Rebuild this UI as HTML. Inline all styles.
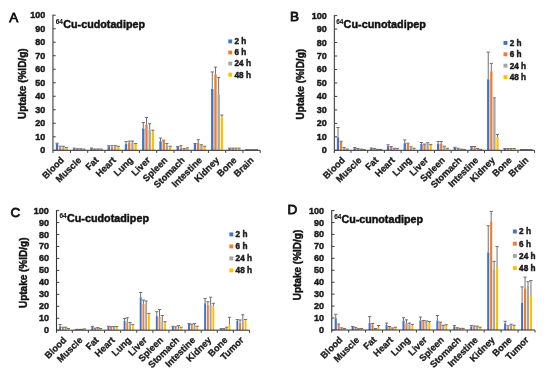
<!DOCTYPE html>
<html><head><meta charset="utf-8"><style>
html,body{margin:0;padding:0;background:#fff;width:550px;height:375px;overflow:hidden}
svg{display:block;filter:blur(0.35px)}
text{stroke:#1a1a1a;stroke-width:0.45px;paint-order:stroke}
</style></head><body>
<svg width="550" height="375" viewBox="0 0 550 375">
<rect width="550" height="375" fill="#fff"/>
<rect x="55.85" y="143.82" width="2.36" height="6.48" fill="#4472C4"/>
<rect x="59.05" y="147.33" width="2.36" height="2.97" fill="#ED7D31"/>
<rect x="62.25" y="147.33" width="2.36" height="2.97" fill="#A5A5A5"/>
<rect x="65.45" y="148.14" width="2.36" height="2.16" fill="#FFC000"/>
<rect x="73.09" y="148.41" width="2.36" height="1.89" fill="#4472C4"/>
<rect x="76.3" y="148.95" width="2.36" height="1.35" fill="#ED7D31"/>
<rect x="79.5" y="148.95" width="2.36" height="1.35" fill="#A5A5A5"/>
<rect x="82.7" y="149.22" width="2.36" height="1.08" fill="#FFC000"/>
<rect x="90.34" y="148.27" width="2.36" height="2.03" fill="#4472C4"/>
<rect x="93.55" y="149.22" width="2.36" height="1.08" fill="#ED7D31"/>
<rect x="96.75" y="149.22" width="2.36" height="1.08" fill="#A5A5A5"/>
<rect x="99.95" y="149.22" width="2.36" height="1.08" fill="#FFC000"/>
<rect x="107.59" y="146.25" width="2.36" height="4.05" fill="#4472C4"/>
<rect x="110.8" y="147.19" width="2.36" height="3.11" fill="#ED7D31"/>
<rect x="114" y="145.98" width="2.36" height="4.32" fill="#A5A5A5"/>
<rect x="117.2" y="146.52" width="2.36" height="3.78" fill="#FFC000"/>
<rect x="124.84" y="144.09" width="2.36" height="6.21" fill="#4472C4"/>
<rect x="128.04" y="142.6" width="2.36" height="7.7" fill="#ED7D31"/>
<rect x="131.24" y="142.6" width="2.36" height="7.7" fill="#A5A5A5"/>
<rect x="134.44" y="144.09" width="2.36" height="6.21" fill="#FFC000"/>
<rect x="142.09" y="128.41" width="2.36" height="21.89" fill="#4472C4"/>
<rect x="145.29" y="124.77" width="2.36" height="25.53" fill="#ED7D31"/>
<rect x="148.49" y="129.63" width="2.36" height="20.67" fill="#A5A5A5"/>
<rect x="151.69" y="131.93" width="2.36" height="18.37" fill="#FFC000"/>
<rect x="159.34" y="141.11" width="2.36" height="9.19" fill="#4472C4"/>
<rect x="162.54" y="140.84" width="2.36" height="9.46" fill="#ED7D31"/>
<rect x="165.74" y="145.3" width="2.36" height="5" fill="#A5A5A5"/>
<rect x="168.94" y="146.79" width="2.36" height="3.51" fill="#FFC000"/>
<rect x="176.59" y="147.06" width="2.36" height="3.24" fill="#4472C4"/>
<rect x="179.79" y="147.6" width="2.36" height="2.7" fill="#ED7D31"/>
<rect x="182.99" y="148.95" width="2.36" height="1.35" fill="#A5A5A5"/>
<rect x="186.19" y="148.41" width="2.36" height="1.89" fill="#FFC000"/>
<rect x="193.84" y="144.09" width="2.36" height="6.21" fill="#4472C4"/>
<rect x="197.04" y="143" width="2.36" height="7.3" fill="#ED7D31"/>
<rect x="200.24" y="145.3" width="2.36" height="5" fill="#A5A5A5"/>
<rect x="203.44" y="146.79" width="2.36" height="3.51" fill="#FFC000"/>
<rect x="211.09" y="88.96" width="2.36" height="61.34" fill="#4472C4"/>
<rect x="214.29" y="74.24" width="2.36" height="76.06" fill="#ED7D31"/>
<rect x="217.49" y="94.5" width="2.36" height="55.8" fill="#A5A5A5"/>
<rect x="220.69" y="117.2" width="2.36" height="33.1" fill="#FFC000"/>
<rect x="228.34" y="148.41" width="2.36" height="1.89" fill="#4472C4"/>
<rect x="231.54" y="148.41" width="2.36" height="1.89" fill="#ED7D31"/>
<rect x="234.74" y="148.41" width="2.36" height="1.89" fill="#A5A5A5"/>
<rect x="237.94" y="148.41" width="2.36" height="1.89" fill="#FFC000"/>
<rect x="245.59" y="149.76" width="2.36" height="0.54" fill="#4472C4"/>
<rect x="248.79" y="149.76" width="2.36" height="0.54" fill="#ED7D31"/>
<rect x="251.99" y="149.76" width="2.36" height="0.54" fill="#A5A5A5"/>
<rect x="255.19" y="149.76" width="2.36" height="0.54" fill="#FFC000"/>
<path d="M57.03 143.82V143.27M55.43 143.27H58.63M60.23 147.33V146.25M58.63 146.25H61.83M63.43 147.33V146.25M61.83 146.25H65.03M66.62 148.14V147.6M65.03 147.6H68.22M74.27 148.41V148.14M72.67 148.14H75.87M77.47 148.95V148.81M75.88 148.81H79.07M80.67 148.95V148.81M79.08 148.81H82.27M83.88 149.22V149.08M82.28 149.08H85.47M91.52 148.27V148M89.92 148H93.12M94.72 149.22V149.08M93.12 149.08H96.32M97.92 149.22V148.95M96.33 148.95H99.52M101.12 149.22V149.08M99.53 149.08H102.72M108.77 146.25V145.71M107.17 145.71H110.37M111.97 147.19V145.71M110.38 145.71H113.57M115.17 145.98V145.44M113.58 145.44H116.77M118.38 146.52V146.25M116.78 146.25H119.97M126.02 144.09V141.65M124.42 141.65H127.62M129.22 142.6V141.11M127.62 141.11H130.82M132.42 142.6V141.11M130.82 141.11H134.02M135.62 144.09V143.55M134.02 143.55H137.22M143.27 128.41V122.47M141.67 122.47H144.87M146.47 124.77V117.47M144.87 117.47H148.07M149.67 129.63V123.69M148.07 123.69H151.27M152.87 131.93V130.17M151.27 130.17H154.47M160.52 141.11V138.01M158.92 138.01H162.12M163.72 140.84V140.17M162.12 140.17H165.32M166.92 145.3V143.55M165.32 143.55H168.52M170.12 146.79V146.25M168.52 146.25H171.72M177.77 147.06V146.52M176.17 146.52H179.37M180.97 147.6V145.71M179.37 145.71H182.57M184.17 148.95V148.68M182.57 148.68H185.77M187.37 148.41V147.87M185.77 147.87H188.97M195.02 144.09V143.55M193.42 143.55H196.62M198.22 143V139.76M196.62 139.76H199.82M201.42 145.3V144.76M199.82 144.76H203.02M204.62 146.79V146.25M203.02 146.25H206.22M212.27 88.96V71.94M210.67 71.94H213.87M215.47 74.24V67.08M213.87 67.08H217.07M218.67 94.5V77.62M217.07 77.62H220.27M221.87 117.2V115.04M220.27 115.04H223.47M229.52 148.41V148.14M227.92 148.14H231.12M232.72 148.41V148.14M231.12 148.14H234.32M235.92 148.41V148.14M234.32 148.14H237.52M239.12 148.41V148.14M237.52 148.14H240.72M246.77 149.76V149.62M245.17 149.62H248.37M249.97 149.76V149.62M248.37 149.62H251.57M253.17 149.76V149.62M251.57 149.62H254.77M256.38 149.76V149.62M254.78 149.62H257.98" stroke="#707070" stroke-width="1" fill="none"/>
<path d="M53.2 150.3H260.2" stroke="#2a2a35" stroke-width="1"/>
<path d="M70.45 150.3V152.9M87.7 150.3V152.9M104.95 150.3V152.9M122.2 150.3V152.9M139.45 150.3V152.9M156.7 150.3V152.9M173.95 150.3V152.9M191.2 150.3V152.9M208.45 150.3V152.9M225.7 150.3V152.9M242.95 150.3V152.9M260.2 150.3V152.9" stroke="#404040" stroke-width="1"/>
<path d="M52.9 14.7V152.9" stroke="#8c8c8c" stroke-width="1.9"/>
<path d="M52.9 150.3H55.7M52.9 136.79H55.7M52.9 123.28H55.7M52.9 109.77H55.7M52.9 96.26H55.7M52.9 82.75H55.7M52.9 69.24H55.7M52.9 55.73H55.7M52.9 42.22H55.7M52.9 28.71H55.7M52.9 15.2H55.7" stroke="#404040" stroke-width="1"/>
<text x="45.3" y="153.3" text-anchor="end" font-family='"Liberation Sans", sans-serif' font-weight='bold' font-size="9" fill="#1a1a1a">0</text>
<text x="45.3" y="139.79" text-anchor="end" font-family='"Liberation Sans", sans-serif' font-weight='bold' font-size="9" fill="#1a1a1a">10</text>
<text x="45.3" y="126.28" text-anchor="end" font-family='"Liberation Sans", sans-serif' font-weight='bold' font-size="9" fill="#1a1a1a">20</text>
<text x="45.3" y="112.77" text-anchor="end" font-family='"Liberation Sans", sans-serif' font-weight='bold' font-size="9" fill="#1a1a1a">30</text>
<text x="45.3" y="99.26" text-anchor="end" font-family='"Liberation Sans", sans-serif' font-weight='bold' font-size="9" fill="#1a1a1a">40</text>
<text x="45.3" y="85.75" text-anchor="end" font-family='"Liberation Sans", sans-serif' font-weight='bold' font-size="9" fill="#1a1a1a">50</text>
<text x="45.3" y="72.24" text-anchor="end" font-family='"Liberation Sans", sans-serif' font-weight='bold' font-size="9" fill="#1a1a1a">60</text>
<text x="45.3" y="58.73" text-anchor="end" font-family='"Liberation Sans", sans-serif' font-weight='bold' font-size="9" fill="#1a1a1a">70</text>
<text x="45.3" y="45.22" text-anchor="end" font-family='"Liberation Sans", sans-serif' font-weight='bold' font-size="9" fill="#1a1a1a">80</text>
<text x="45.3" y="31.71" text-anchor="end" font-family='"Liberation Sans", sans-serif' font-weight='bold' font-size="9" fill="#1a1a1a">90</text>
<text x="45.3" y="18.2" text-anchor="end" font-family='"Liberation Sans", sans-serif' font-weight='bold' font-size="9" fill="#1a1a1a">100</text>
<text transform="translate(64.62 160.8) rotate(-45)" text-anchor="end" font-family='"Liberation Sans", sans-serif' font-weight='bold' font-size="9.3" fill="#1a1a1a" style="stroke-width:0.3px">Blood</text>
<text transform="translate(81.88 160.8) rotate(-45)" text-anchor="end" font-family='"Liberation Sans", sans-serif' font-weight='bold' font-size="9.3" fill="#1a1a1a" style="stroke-width:0.3px">Muscle</text>
<text transform="translate(99.12 160.8) rotate(-45)" text-anchor="end" font-family='"Liberation Sans", sans-serif' font-weight='bold' font-size="9.3" fill="#1a1a1a" style="stroke-width:0.3px">Fat</text>
<text transform="translate(116.38 160.8) rotate(-45)" text-anchor="end" font-family='"Liberation Sans", sans-serif' font-weight='bold' font-size="9.3" fill="#1a1a1a" style="stroke-width:0.3px">Heart</text>
<text transform="translate(133.62 160.8) rotate(-45)" text-anchor="end" font-family='"Liberation Sans", sans-serif' font-weight='bold' font-size="9.3" fill="#1a1a1a" style="stroke-width:0.3px">Lung</text>
<text transform="translate(150.88 160.8) rotate(-45)" text-anchor="end" font-family='"Liberation Sans", sans-serif' font-weight='bold' font-size="9.3" fill="#1a1a1a" style="stroke-width:0.3px">Liver</text>
<text transform="translate(168.12 160.8) rotate(-45)" text-anchor="end" font-family='"Liberation Sans", sans-serif' font-weight='bold' font-size="9.3" fill="#1a1a1a" style="stroke-width:0.3px">Spleen</text>
<text transform="translate(185.38 160.8) rotate(-45)" text-anchor="end" font-family='"Liberation Sans", sans-serif' font-weight='bold' font-size="9.3" fill="#1a1a1a" style="stroke-width:0.3px">Stomach</text>
<text transform="translate(202.62 160.8) rotate(-45)" text-anchor="end" font-family='"Liberation Sans", sans-serif' font-weight='bold' font-size="9.3" fill="#1a1a1a" style="stroke-width:0.3px">Intestine</text>
<text transform="translate(219.88 160.8) rotate(-45)" text-anchor="end" font-family='"Liberation Sans", sans-serif' font-weight='bold' font-size="9.3" fill="#1a1a1a" style="stroke-width:0.3px">Kidney</text>
<text transform="translate(237.12 160.8) rotate(-45)" text-anchor="end" font-family='"Liberation Sans", sans-serif' font-weight='bold' font-size="9.3" fill="#1a1a1a" style="stroke-width:0.3px">Bone</text>
<text transform="translate(254.38 160.8) rotate(-45)" text-anchor="end" font-family='"Liberation Sans", sans-serif' font-weight='bold' font-size="9.3" fill="#1a1a1a" style="stroke-width:0.3px">Brain</text>
<text x="55.7" y="23.6" font-family='"Liberation Sans", sans-serif' font-weight="bold" font-size="6.5" fill="#111" style="stroke:#111;stroke-width:0.1px" textLength="7.2" lengthAdjust="spacingAndGlyphs">64</text>
<text x="63.3" y="27.6" font-family='"Liberation Sans", sans-serif' font-weight='bold' font-size="10.5" fill="#111" textLength="81.7" lengthAdjust="spacingAndGlyphs">Cu-cudotadipep</text>
<rect x="228.3" y="39.45" width="3.9" height="3.9" fill="#4472C4"/>
<text x="234.5" y="44.2" font-family='"Liberation Sans", sans-serif' font-weight='bold' font-size="8.2" fill="#1a1a1a">2 h</text>
<rect x="228.3" y="50.55" width="3.9" height="3.9" fill="#ED7D31"/>
<text x="234.5" y="55.3" font-family='"Liberation Sans", sans-serif' font-weight='bold' font-size="8.2" fill="#1a1a1a">6 h</text>
<rect x="228.3" y="61.65" width="3.9" height="3.9" fill="#A5A5A5"/>
<text x="234.5" y="66.4" font-family='"Liberation Sans", sans-serif' font-weight='bold' font-size="8.2" fill="#1a1a1a">24 h</text>
<rect x="228.3" y="72.75" width="3.9" height="3.9" fill="#FFC000"/>
<text x="234.5" y="77.5" font-family='"Liberation Sans", sans-serif' font-weight='bold' font-size="8.2" fill="#1a1a1a">48 h</text>
<text transform="translate(25.5 83.7) rotate(-90)" text-anchor="middle" font-family='"Liberation Sans", sans-serif' font-weight='bold' font-size="10" fill="#111">Uptake (%ID/g)</text>
<text x="9.2" y="21.6" font-family='"Liberation Sans", sans-serif' font-size="13.5" fill="#111" style="stroke:#111;stroke-width:0.8px">A</text>
<rect x="336.87" y="137.37" width="2.26" height="12.93" fill="#4472C4"/>
<rect x="339.97" y="141.81" width="2.26" height="8.49" fill="#ED7D31"/>
<rect x="343.07" y="148.14" width="2.26" height="2.16" fill="#A5A5A5"/>
<rect x="346.17" y="149.22" width="2.26" height="1.08" fill="#FFC000"/>
<rect x="353.56" y="148.14" width="2.26" height="2.16" fill="#4472C4"/>
<rect x="356.66" y="148.68" width="2.26" height="1.62" fill="#ED7D31"/>
<rect x="359.76" y="149.22" width="2.26" height="1.08" fill="#A5A5A5"/>
<rect x="362.86" y="149.49" width="2.26" height="0.81" fill="#FFC000"/>
<rect x="370.25" y="148.28" width="2.26" height="2.02" fill="#4472C4"/>
<rect x="373.35" y="148.68" width="2.26" height="1.62" fill="#ED7D31"/>
<rect x="376.45" y="149.49" width="2.26" height="0.81" fill="#A5A5A5"/>
<rect x="379.55" y="149.49" width="2.26" height="0.81" fill="#FFC000"/>
<rect x="386.94" y="146.12" width="2.26" height="4.18" fill="#4472C4"/>
<rect x="390.04" y="147.07" width="2.26" height="3.23" fill="#ED7D31"/>
<rect x="393.14" y="148.41" width="2.26" height="1.89" fill="#A5A5A5"/>
<rect x="396.24" y="148.55" width="2.26" height="1.75" fill="#FFC000"/>
<rect x="403.63" y="143.16" width="2.26" height="7.14" fill="#4472C4"/>
<rect x="406.73" y="143.7" width="2.26" height="6.6" fill="#ED7D31"/>
<rect x="409.83" y="147.74" width="2.26" height="2.56" fill="#A5A5A5"/>
<rect x="412.93" y="148.41" width="2.26" height="1.89" fill="#FFC000"/>
<rect x="420.32" y="144.1" width="2.26" height="6.2" fill="#4472C4"/>
<rect x="423.42" y="144.37" width="2.26" height="5.93" fill="#ED7D31"/>
<rect x="426.52" y="143.7" width="2.26" height="6.6" fill="#A5A5A5"/>
<rect x="429.62" y="144.78" width="2.26" height="5.52" fill="#FFC000"/>
<rect x="437.02" y="143.56" width="2.26" height="6.74" fill="#4472C4"/>
<rect x="440.12" y="143.7" width="2.26" height="6.6" fill="#ED7D31"/>
<rect x="443.22" y="147.07" width="2.26" height="3.23" fill="#A5A5A5"/>
<rect x="446.32" y="148.41" width="2.26" height="1.89" fill="#FFC000"/>
<rect x="453.71" y="147.88" width="2.26" height="2.42" fill="#4472C4"/>
<rect x="456.81" y="148.41" width="2.26" height="1.89" fill="#ED7D31"/>
<rect x="459.91" y="149.22" width="2.26" height="1.08" fill="#A5A5A5"/>
<rect x="463.01" y="149.49" width="2.26" height="0.81" fill="#FFC000"/>
<rect x="470.4" y="147.07" width="2.26" height="3.23" fill="#4472C4"/>
<rect x="473.5" y="147.34" width="2.26" height="2.96" fill="#ED7D31"/>
<rect x="476.6" y="148.68" width="2.26" height="1.62" fill="#A5A5A5"/>
<rect x="479.7" y="149.49" width="2.26" height="0.81" fill="#FFC000"/>
<rect x="487.09" y="79.31" width="2.26" height="70.99" fill="#4472C4"/>
<rect x="490.19" y="71.37" width="2.26" height="78.93" fill="#ED7D31"/>
<rect x="493.29" y="99.11" width="2.26" height="51.19" fill="#A5A5A5"/>
<rect x="496.39" y="137.1" width="2.26" height="13.2" fill="#FFC000"/>
<rect x="503.78" y="148.68" width="2.26" height="1.62" fill="#4472C4"/>
<rect x="506.88" y="148.68" width="2.26" height="1.62" fill="#ED7D31"/>
<rect x="509.98" y="148.68" width="2.26" height="1.62" fill="#A5A5A5"/>
<rect x="513.08" y="148.68" width="2.26" height="1.62" fill="#FFC000"/>
<rect x="520.47" y="149.63" width="2.26" height="0.67" fill="#4472C4"/>
<rect x="523.57" y="149.63" width="2.26" height="0.67" fill="#ED7D31"/>
<rect x="526.67" y="149.63" width="2.26" height="0.67" fill="#A5A5A5"/>
<rect x="529.77" y="149.63" width="2.26" height="0.67" fill="#FFC000"/>
<path d="M338 137.37V127.54M336.4 127.54H339.6M341.1 141.81V141.28M339.5 141.28H342.7M344.2 148.14V147.61M342.6 147.61H345.8M347.3 149.22V149.09M345.7 149.09H348.9M354.69 148.14V147.61M353.09 147.61H356.29M357.79 148.68V148.55M356.19 148.55H359.39M360.89 149.22V149.09M359.29 149.09H362.49M363.99 149.49V149.36M362.39 149.36H365.59M371.38 148.28V148.01M369.78 148.01H372.98M374.48 148.68V148.55M372.88 148.55H376.08M377.58 149.49V149.36M375.98 149.36H379.18M380.68 149.49V149.36M379.08 149.36H382.28M388.07 146.12V144.78M386.47 144.78H389.67M391.17 147.07V146.53M389.57 146.53H392.77M394.27 148.41V148.28M392.67 148.28H395.87M397.37 148.55V148.41M395.77 148.41H398.97M404.76 143.16V139.93M403.16 139.93H406.36M407.86 143.7V143.16M406.26 143.16H409.46M410.96 147.74V146.8M409.36 146.8H412.56M414.06 148.41V148.28M412.46 148.28H415.66M421.45 144.1V142.49M419.85 142.49H423.05M424.55 144.37V144.1M422.95 144.1H426.15M427.65 143.7V142.76M426.05 142.76H429.25M430.75 144.78V144.64M429.15 144.64H432.35M438.15 143.56V141.54M436.55 141.54H439.75M441.25 143.7V141.54M439.65 141.54H442.85M444.35 147.07V146.26M442.75 146.26H445.95M447.45 148.41V148.28M445.85 148.28H449.05M454.84 147.88V147.34M453.24 147.34H456.44M457.94 148.41V148.28M456.34 148.28H459.54M461.04 149.22V149.09M459.44 149.09H462.64M464.14 149.49V149.36M462.54 149.36H465.74M471.53 147.07V146.53M469.93 146.53H473.13M474.63 147.34V146.53M473.03 146.53H476.23M477.73 148.68V148.55M476.13 148.55H479.33M480.83 149.49V149.36M479.23 149.36H482.43M488.22 79.31V52.1M486.62 52.1H489.82M491.32 71.37V63.42M489.72 63.42H492.92M494.42 99.11V97.9M492.82 97.9H496.02M497.52 137.1V134.41M495.92 134.41H499.12M504.91 148.68V148.55M503.31 148.55H506.51M508.01 148.68V148.55M506.41 148.55H509.61M511.11 148.68V148.55M509.51 148.55H512.71M514.21 148.68V148.55M512.61 148.55H515.81M521.6 149.63V149.49M520 149.49H523.2M524.7 149.63V149.49M523.1 149.49H526.3M527.8 149.63V149.49M526.2 149.49H529.4M530.9 149.63V149.49M529.3 149.49H532.5" stroke="#707070" stroke-width="1" fill="none"/>
<path d="M334.3 150.3H534.6" stroke="#2a2a35" stroke-width="1"/>
<path d="M350.99 150.3V152.9M367.68 150.3V152.9M384.38 150.3V152.9M401.07 150.3V152.9M417.76 150.3V152.9M434.45 150.3V152.9M451.14 150.3V152.9M467.83 150.3V152.9M484.52 150.3V152.9M501.22 150.3V152.9M517.91 150.3V152.9M534.6 150.3V152.9" stroke="#404040" stroke-width="1"/>
<path d="M334.4 15.1V152.9" stroke="#555" stroke-width="1.3"/>
<path d="M334.4 150.3H337.2M334.4 136.83H337.2M334.4 123.36H337.2M334.4 109.89H337.2M334.4 96.42H337.2M334.4 82.95H337.2M334.4 69.48H337.2M334.4 56.01H337.2M334.4 42.54H337.2M334.4 29.07H337.2M334.4 15.6H337.2" stroke="#404040" stroke-width="1"/>
<text x="326.8" y="153.3" text-anchor="end" font-family='"Liberation Sans", sans-serif' font-weight='bold' font-size="9" fill="#1a1a1a">0</text>
<text x="326.8" y="139.83" text-anchor="end" font-family='"Liberation Sans", sans-serif' font-weight='bold' font-size="9" fill="#1a1a1a">10</text>
<text x="326.8" y="126.36" text-anchor="end" font-family='"Liberation Sans", sans-serif' font-weight='bold' font-size="9" fill="#1a1a1a">20</text>
<text x="326.8" y="112.89" text-anchor="end" font-family='"Liberation Sans", sans-serif' font-weight='bold' font-size="9" fill="#1a1a1a">30</text>
<text x="326.8" y="99.42" text-anchor="end" font-family='"Liberation Sans", sans-serif' font-weight='bold' font-size="9" fill="#1a1a1a">40</text>
<text x="326.8" y="85.95" text-anchor="end" font-family='"Liberation Sans", sans-serif' font-weight='bold' font-size="9" fill="#1a1a1a">50</text>
<text x="326.8" y="72.48" text-anchor="end" font-family='"Liberation Sans", sans-serif' font-weight='bold' font-size="9" fill="#1a1a1a">60</text>
<text x="326.8" y="59.01" text-anchor="end" font-family='"Liberation Sans", sans-serif' font-weight='bold' font-size="9" fill="#1a1a1a">70</text>
<text x="326.8" y="45.54" text-anchor="end" font-family='"Liberation Sans", sans-serif' font-weight='bold' font-size="9" fill="#1a1a1a">80</text>
<text x="326.8" y="32.07" text-anchor="end" font-family='"Liberation Sans", sans-serif' font-weight='bold' font-size="9" fill="#1a1a1a">90</text>
<text x="326.8" y="18.6" text-anchor="end" font-family='"Liberation Sans", sans-serif' font-weight='bold' font-size="9" fill="#1a1a1a">100</text>
<text transform="translate(345.45 160.8) rotate(-45)" text-anchor="end" font-family='"Liberation Sans", sans-serif' font-weight='bold' font-size="9.3" fill="#1a1a1a" style="stroke-width:0.3px">Blood</text>
<text transform="translate(362.14 160.8) rotate(-45)" text-anchor="end" font-family='"Liberation Sans", sans-serif' font-weight='bold' font-size="9.3" fill="#1a1a1a" style="stroke-width:0.3px">Muscle</text>
<text transform="translate(378.83 160.8) rotate(-45)" text-anchor="end" font-family='"Liberation Sans", sans-serif' font-weight='bold' font-size="9.3" fill="#1a1a1a" style="stroke-width:0.3px">Fat</text>
<text transform="translate(395.52 160.8) rotate(-45)" text-anchor="end" font-family='"Liberation Sans", sans-serif' font-weight='bold' font-size="9.3" fill="#1a1a1a" style="stroke-width:0.3px">Heart</text>
<text transform="translate(412.21 160.8) rotate(-45)" text-anchor="end" font-family='"Liberation Sans", sans-serif' font-weight='bold' font-size="9.3" fill="#1a1a1a" style="stroke-width:0.3px">Lung</text>
<text transform="translate(428.9 160.8) rotate(-45)" text-anchor="end" font-family='"Liberation Sans", sans-serif' font-weight='bold' font-size="9.3" fill="#1a1a1a" style="stroke-width:0.3px">Liver</text>
<text transform="translate(445.6 160.8) rotate(-45)" text-anchor="end" font-family='"Liberation Sans", sans-serif' font-weight='bold' font-size="9.3" fill="#1a1a1a" style="stroke-width:0.3px">Spleen</text>
<text transform="translate(462.29 160.8) rotate(-45)" text-anchor="end" font-family='"Liberation Sans", sans-serif' font-weight='bold' font-size="9.3" fill="#1a1a1a" style="stroke-width:0.3px">Stomach</text>
<text transform="translate(478.98 160.8) rotate(-45)" text-anchor="end" font-family='"Liberation Sans", sans-serif' font-weight='bold' font-size="9.3" fill="#1a1a1a" style="stroke-width:0.3px">Intestine</text>
<text transform="translate(495.67 160.8) rotate(-45)" text-anchor="end" font-family='"Liberation Sans", sans-serif' font-weight='bold' font-size="9.3" fill="#1a1a1a" style="stroke-width:0.3px">Kidney</text>
<text transform="translate(512.36 160.8) rotate(-45)" text-anchor="end" font-family='"Liberation Sans", sans-serif' font-weight='bold' font-size="9.3" fill="#1a1a1a" style="stroke-width:0.3px">Bone</text>
<text transform="translate(529.05 160.8) rotate(-45)" text-anchor="end" font-family='"Liberation Sans", sans-serif' font-weight='bold' font-size="9.3" fill="#1a1a1a" style="stroke-width:0.3px">Brain</text>
<text x="336.2" y="23.8" font-family='"Liberation Sans", sans-serif' font-weight="bold" font-size="6.5" fill="#111" style="stroke:#111;stroke-width:0.1px" textLength="7.2" lengthAdjust="spacingAndGlyphs">64</text>
<text x="343.6" y="27.8" font-family='"Liberation Sans", sans-serif' font-weight='bold' font-size="10.5" fill="#111" textLength="82.4" lengthAdjust="spacingAndGlyphs">Cu-cunotadipep</text>
<rect x="503.5" y="40.95" width="3.9" height="3.9" fill="#4472C4"/>
<text x="509.7" y="45.7" font-family='"Liberation Sans", sans-serif' font-weight='bold' font-size="8.2" fill="#1a1a1a">2 h</text>
<rect x="503.5" y="52.35" width="3.9" height="3.9" fill="#ED7D31"/>
<text x="509.7" y="57.1" font-family='"Liberation Sans", sans-serif' font-weight='bold' font-size="8.2" fill="#1a1a1a">6 h</text>
<rect x="503.5" y="63.75" width="3.9" height="3.9" fill="#A5A5A5"/>
<text x="509.7" y="68.5" font-family='"Liberation Sans", sans-serif' font-weight='bold' font-size="8.2" fill="#1a1a1a">24 h</text>
<rect x="503.5" y="75.15" width="3.9" height="3.9" fill="#FFC000"/>
<text x="509.7" y="79.9" font-family='"Liberation Sans", sans-serif' font-weight='bold' font-size="8.2" fill="#1a1a1a">48 h</text>
<text transform="translate(304.4 84.2) rotate(-90)" text-anchor="middle" font-family='"Liberation Sans", sans-serif' font-weight='bold' font-size="10" fill="#111">Uptake (%ID/g)</text>
<text x="290.1" y="20.9" font-family='"Liberation Sans", sans-serif' font-size="13.5" fill="#111" style="stroke:#111;stroke-width:0.8px">B</text>
<rect x="59.17" y="326.37" width="1.91" height="3.83" fill="#4472C4"/>
<rect x="61.92" y="327.81" width="1.91" height="2.39" fill="#ED7D31"/>
<rect x="64.67" y="327.81" width="1.91" height="2.39" fill="#A5A5A5"/>
<rect x="67.42" y="328.76" width="1.91" height="1.44" fill="#FFC000"/>
<rect x="75.28" y="329.48" width="1.91" height="0.72" fill="#4472C4"/>
<rect x="78.03" y="329.48" width="1.91" height="0.72" fill="#ED7D31"/>
<rect x="80.78" y="329.48" width="1.91" height="0.72" fill="#A5A5A5"/>
<rect x="83.53" y="329" width="1.91" height="1.2" fill="#FFC000"/>
<rect x="91.39" y="326.97" width="1.91" height="3.23" fill="#4472C4"/>
<rect x="94.14" y="328.41" width="1.91" height="1.79" fill="#ED7D31"/>
<rect x="96.89" y="327.81" width="1.91" height="2.39" fill="#A5A5A5"/>
<rect x="99.64" y="328.76" width="1.91" height="1.44" fill="#FFC000"/>
<rect x="107.5" y="326.49" width="1.91" height="3.71" fill="#4472C4"/>
<rect x="110.25" y="326.97" width="1.91" height="3.23" fill="#ED7D31"/>
<rect x="113" y="326.85" width="1.91" height="3.35" fill="#A5A5A5"/>
<rect x="115.75" y="326.85" width="1.91" height="3.35" fill="#FFC000"/>
<rect x="123.61" y="320.87" width="1.91" height="9.33" fill="#4472C4"/>
<rect x="126.36" y="322.19" width="1.91" height="8.01" fill="#ED7D31"/>
<rect x="129.11" y="324.1" width="1.91" height="6.1" fill="#A5A5A5"/>
<rect x="131.86" y="325.18" width="1.91" height="5.02" fill="#FFC000"/>
<rect x="139.72" y="297.31" width="1.91" height="32.89" fill="#4472C4"/>
<rect x="142.47" y="303.89" width="1.91" height="26.31" fill="#ED7D31"/>
<rect x="145.22" y="304.13" width="1.91" height="26.07" fill="#A5A5A5"/>
<rect x="147.97" y="314.05" width="1.91" height="16.15" fill="#FFC000"/>
<rect x="155.82" y="316.09" width="1.91" height="14.11" fill="#4472C4"/>
<rect x="158.57" y="316.92" width="1.91" height="13.28" fill="#ED7D31"/>
<rect x="161.32" y="322.07" width="1.91" height="8.13" fill="#A5A5A5"/>
<rect x="164.07" y="323.26" width="1.91" height="6.94" fill="#FFC000"/>
<rect x="171.93" y="326.85" width="1.91" height="3.35" fill="#4472C4"/>
<rect x="174.68" y="327.81" width="1.91" height="2.39" fill="#ED7D31"/>
<rect x="177.43" y="328.41" width="1.91" height="1.79" fill="#A5A5A5"/>
<rect x="180.18" y="327.81" width="1.91" height="2.39" fill="#FFC000"/>
<rect x="188.04" y="323.86" width="1.91" height="6.34" fill="#4472C4"/>
<rect x="190.79" y="324.46" width="1.91" height="5.74" fill="#ED7D31"/>
<rect x="193.54" y="325.06" width="1.91" height="5.14" fill="#A5A5A5"/>
<rect x="196.29" y="327.21" width="1.91" height="2.99" fill="#FFC000"/>
<rect x="204.15" y="303.29" width="1.91" height="26.91" fill="#4472C4"/>
<rect x="206.9" y="304.84" width="1.91" height="25.36" fill="#ED7D31"/>
<rect x="209.65" y="305.2" width="1.91" height="25" fill="#A5A5A5"/>
<rect x="212.4" y="306.52" width="1.91" height="23.68" fill="#FFC000"/>
<rect x="220.26" y="328.88" width="1.91" height="1.32" fill="#4472C4"/>
<rect x="223.01" y="328.88" width="1.91" height="1.32" fill="#ED7D31"/>
<rect x="225.76" y="328.41" width="1.91" height="1.79" fill="#A5A5A5"/>
<rect x="228.51" y="324.58" width="1.91" height="5.62" fill="#FFC000"/>
<rect x="236.37" y="320.99" width="1.91" height="9.21" fill="#4472C4"/>
<rect x="239.12" y="322.9" width="1.91" height="7.3" fill="#ED7D31"/>
<rect x="241.87" y="318.72" width="1.91" height="11.48" fill="#A5A5A5"/>
<rect x="244.62" y="320.03" width="1.91" height="10.17" fill="#FFC000"/>
<path d="M60.13 326.37V324.46M58.53 324.46H61.73M62.88 327.81V327.21M61.28 327.21H64.48M65.63 327.81V327.21M64.03 327.21H67.23M68.38 328.76V328.53M66.78 328.53H69.98M76.24 329.48V329.36M74.64 329.36H77.84M78.99 329.48V329.36M77.39 329.36H80.59M81.74 329.48V329.36M80.14 329.36H83.34M84.49 329V328.88M82.89 328.88H86.09M92.35 326.97V326.37M90.75 326.37H93.95M95.1 328.41V328.17M93.5 328.17H96.7M97.85 327.81V327.57M96.25 327.57H99.45M100.6 328.76V328.53M99 328.53H102.2M108.45 326.49V326.25M106.85 326.25H110.05M111.2 326.97V326.73M109.6 326.73H112.8M113.95 326.85V326.61M112.35 326.61H115.55M116.7 326.85V326.61M115.1 326.61H118.3M124.56 320.87V318.48M122.96 318.48H126.16M127.31 322.19V317.76M125.71 317.76H128.91M130.06 324.1V322.55M128.46 322.55H131.66M132.81 325.18V324.58M131.21 324.58H134.41M140.67 297.31V292.53M139.07 292.53H142.27M143.42 303.89V300.06M141.82 300.06H145.02M146.17 304.13V301.02M144.57 301.02H147.77M148.92 314.05V313.46M147.32 313.46H150.52M156.78 316.09V311.66M155.18 311.66H158.38M159.53 316.92V309.51M157.93 309.51H161.13M162.28 322.07V315.49M160.68 315.49H163.88M165.03 323.26V321.71M163.43 321.71H166.63M172.89 326.85V326.25M171.29 326.25H174.49M175.64 327.81V326.85M174.04 326.85H177.24M178.39 328.41V325.66M176.79 325.66H179.99M181.14 327.81V327.21M179.54 327.21H182.74M189 323.86V323.62M187.4 323.62H190.6M191.75 324.46V324.22M190.15 324.22H193.35M194.5 325.06V323.62M192.9 323.62H196.1M197.25 327.21V326.25M195.65 326.25H198.85M205.1 303.29V298.51M203.5 298.51H206.7M207.85 304.84V301.74M206.25 301.74H209.45M210.6 305.2V297.19M209 297.19H212.2M213.35 306.52V303.29M211.75 303.29H214.95M221.21 328.88V328.65M219.61 328.65H222.81M223.96 328.88V328.65M222.36 328.65H225.56M226.71 328.41V327.21M225.11 327.21H228.31M229.46 324.58V317.28M227.86 317.28H231.06M237.32 320.99V319.56M235.72 319.56H238.92M240.07 322.9V320.03M238.47 320.03H241.67M242.82 318.72V314.77M241.22 314.77H244.42M245.57 320.03V319.44M243.97 319.44H247.17" stroke="#707070" stroke-width="1" fill="none"/>
<path d="M56.2 330.2H249.5" stroke="#2a2a35" stroke-width="1"/>
<path d="M72.31 330.2V332.8M88.42 330.2V332.8M104.53 330.2V332.8M120.63 330.2V332.8M136.74 330.2V332.8M152.85 330.2V332.8M168.96 330.2V332.8M185.07 330.2V332.8M201.18 330.2V332.8M217.28 330.2V332.8M233.39 330.2V332.8M249.5 330.2V332.8" stroke="#404040" stroke-width="1"/>
<path d="M56.5 210.1V332.8" stroke="#333" stroke-width="1.1"/>
<path d="M56.5 330.2H59.3M56.5 318.24H59.3M56.5 306.28H59.3M56.5 294.32H59.3M56.5 282.36H59.3M56.5 270.4H59.3M56.5 258.44H59.3M56.5 246.48H59.3M56.5 234.52H59.3M56.5 222.56H59.3M56.5 210.6H59.3" stroke="#404040" stroke-width="1"/>
<text x="48.9" y="333.2" text-anchor="end" font-family='"Liberation Sans", sans-serif' font-weight='bold' font-size="9" fill="#1a1a1a">0</text>
<text x="48.9" y="321.24" text-anchor="end" font-family='"Liberation Sans", sans-serif' font-weight='bold' font-size="9" fill="#1a1a1a">10</text>
<text x="48.9" y="309.28" text-anchor="end" font-family='"Liberation Sans", sans-serif' font-weight='bold' font-size="9" fill="#1a1a1a">20</text>
<text x="48.9" y="297.32" text-anchor="end" font-family='"Liberation Sans", sans-serif' font-weight='bold' font-size="9" fill="#1a1a1a">30</text>
<text x="48.9" y="285.36" text-anchor="end" font-family='"Liberation Sans", sans-serif' font-weight='bold' font-size="9" fill="#1a1a1a">40</text>
<text x="48.9" y="273.4" text-anchor="end" font-family='"Liberation Sans", sans-serif' font-weight='bold' font-size="9" fill="#1a1a1a">50</text>
<text x="48.9" y="261.44" text-anchor="end" font-family='"Liberation Sans", sans-serif' font-weight='bold' font-size="9" fill="#1a1a1a">60</text>
<text x="48.9" y="249.48" text-anchor="end" font-family='"Liberation Sans", sans-serif' font-weight='bold' font-size="9" fill="#1a1a1a">70</text>
<text x="48.9" y="237.52" text-anchor="end" font-family='"Liberation Sans", sans-serif' font-weight='bold' font-size="9" fill="#1a1a1a">80</text>
<text x="48.9" y="225.56" text-anchor="end" font-family='"Liberation Sans", sans-serif' font-weight='bold' font-size="9" fill="#1a1a1a">90</text>
<text x="48.9" y="213.6" text-anchor="end" font-family='"Liberation Sans", sans-serif' font-weight='bold' font-size="9" fill="#1a1a1a">100</text>
<text transform="translate(67.05 340.7) rotate(-45)" text-anchor="end" font-family='"Liberation Sans", sans-serif' font-weight='bold' font-size="9.3" fill="#1a1a1a" style="stroke-width:0.3px">Blood</text>
<text transform="translate(83.16 340.7) rotate(-45)" text-anchor="end" font-family='"Liberation Sans", sans-serif' font-weight='bold' font-size="9.3" fill="#1a1a1a" style="stroke-width:0.3px">Muscle</text>
<text transform="translate(99.27 340.7) rotate(-45)" text-anchor="end" font-family='"Liberation Sans", sans-serif' font-weight='bold' font-size="9.3" fill="#1a1a1a" style="stroke-width:0.3px">Fat</text>
<text transform="translate(115.38 340.7) rotate(-45)" text-anchor="end" font-family='"Liberation Sans", sans-serif' font-weight='bold' font-size="9.3" fill="#1a1a1a" style="stroke-width:0.3px">Heart</text>
<text transform="translate(131.49 340.7) rotate(-45)" text-anchor="end" font-family='"Liberation Sans", sans-serif' font-weight='bold' font-size="9.3" fill="#1a1a1a" style="stroke-width:0.3px">Lung</text>
<text transform="translate(147.6 340.7) rotate(-45)" text-anchor="end" font-family='"Liberation Sans", sans-serif' font-weight='bold' font-size="9.3" fill="#1a1a1a" style="stroke-width:0.3px">Liver</text>
<text transform="translate(163.7 340.7) rotate(-45)" text-anchor="end" font-family='"Liberation Sans", sans-serif' font-weight='bold' font-size="9.3" fill="#1a1a1a" style="stroke-width:0.3px">Spleen</text>
<text transform="translate(179.81 340.7) rotate(-45)" text-anchor="end" font-family='"Liberation Sans", sans-serif' font-weight='bold' font-size="9.3" fill="#1a1a1a" style="stroke-width:0.3px">Stomach</text>
<text transform="translate(195.92 340.7) rotate(-45)" text-anchor="end" font-family='"Liberation Sans", sans-serif' font-weight='bold' font-size="9.3" fill="#1a1a1a" style="stroke-width:0.3px">Intestine</text>
<text transform="translate(212.03 340.7) rotate(-45)" text-anchor="end" font-family='"Liberation Sans", sans-serif' font-weight='bold' font-size="9.3" fill="#1a1a1a" style="stroke-width:0.3px">Kidney</text>
<text transform="translate(228.14 340.7) rotate(-45)" text-anchor="end" font-family='"Liberation Sans", sans-serif' font-weight='bold' font-size="9.3" fill="#1a1a1a" style="stroke-width:0.3px">Bone</text>
<text transform="translate(244.25 340.7) rotate(-45)" text-anchor="end" font-family='"Liberation Sans", sans-serif' font-weight='bold' font-size="9.3" fill="#1a1a1a" style="stroke-width:0.3px">Tumor</text>
<text x="59.4" y="218.4" font-family='"Liberation Sans", sans-serif' font-weight="bold" font-size="6.5" fill="#111" style="stroke:#111;stroke-width:0.1px" textLength="7.2" lengthAdjust="spacingAndGlyphs">64</text>
<text x="67" y="222.4" font-family='"Liberation Sans", sans-serif' font-weight='bold' font-size="10.5" fill="#111" textLength="82" lengthAdjust="spacingAndGlyphs">Cu-cudotadipep</text>
<rect x="229.4" y="232.45" width="3.9" height="3.9" fill="#4472C4"/>
<text x="235.6" y="237.2" font-family='"Liberation Sans", sans-serif' font-weight='bold' font-size="8.2" fill="#1a1a1a">2 h</text>
<rect x="229.4" y="244.45" width="3.9" height="3.9" fill="#ED7D31"/>
<text x="235.6" y="249.2" font-family='"Liberation Sans", sans-serif' font-weight='bold' font-size="8.2" fill="#1a1a1a">6 h</text>
<rect x="229.4" y="256.45" width="3.9" height="3.9" fill="#A5A5A5"/>
<text x="235.6" y="261.2" font-family='"Liberation Sans", sans-serif' font-weight='bold' font-size="8.2" fill="#1a1a1a">24 h</text>
<rect x="229.4" y="268.45" width="3.9" height="3.9" fill="#FFC000"/>
<text x="235.6" y="273.2" font-family='"Liberation Sans", sans-serif' font-weight='bold' font-size="8.2" fill="#1a1a1a">48 h</text>
<text transform="translate(27 272.8) rotate(-90)" text-anchor="middle" font-family='"Liberation Sans", sans-serif' font-weight='bold' font-size="10" fill="#111">Uptake (%ID/g)</text>
<text x="10.4" y="216.8" font-family='"Liberation Sans", sans-serif' font-size="13.5" fill="#111" style="stroke:#111;stroke-width:0.8px">C</text>
<rect x="334.69" y="318.3" width="2.11" height="11.7" fill="#4472C4"/>
<rect x="337.64" y="325.1" width="2.11" height="4.9" fill="#ED7D31"/>
<rect x="340.59" y="328.33" width="2.11" height="1.67" fill="#A5A5A5"/>
<rect x="343.54" y="328.81" width="2.11" height="1.19" fill="#FFC000"/>
<rect x="351.63" y="326.9" width="2.11" height="3.1" fill="#4472C4"/>
<rect x="354.58" y="327.61" width="2.11" height="2.39" fill="#ED7D31"/>
<rect x="357.53" y="328.81" width="2.11" height="1.19" fill="#A5A5A5"/>
<rect x="360.48" y="328.57" width="2.11" height="1.43" fill="#FFC000"/>
<rect x="368.57" y="323.07" width="2.11" height="6.93" fill="#4472C4"/>
<rect x="371.52" y="324.27" width="2.11" height="5.73" fill="#ED7D31"/>
<rect x="374.47" y="328.81" width="2.11" height="1.19" fill="#A5A5A5"/>
<rect x="377.42" y="327.49" width="2.11" height="2.51" fill="#FFC000"/>
<rect x="385.52" y="325.1" width="2.11" height="4.9" fill="#4472C4"/>
<rect x="388.47" y="326.9" width="2.11" height="3.1" fill="#ED7D31"/>
<rect x="391.42" y="328.21" width="2.11" height="1.79" fill="#A5A5A5"/>
<rect x="394.37" y="327.85" width="2.11" height="2.15" fill="#FFC000"/>
<rect x="402.46" y="320.69" width="2.11" height="9.31" fill="#4472C4"/>
<rect x="405.41" y="323.07" width="2.11" height="6.93" fill="#ED7D31"/>
<rect x="408.36" y="324.27" width="2.11" height="5.73" fill="#A5A5A5"/>
<rect x="411.31" y="325.46" width="2.11" height="4.54" fill="#FFC000"/>
<rect x="419.4" y="320.45" width="2.11" height="9.55" fill="#4472C4"/>
<rect x="422.35" y="320.69" width="2.11" height="9.31" fill="#ED7D31"/>
<rect x="425.3" y="321.52" width="2.11" height="8.48" fill="#A5A5A5"/>
<rect x="428.25" y="322.96" width="2.11" height="7.04" fill="#FFC000"/>
<rect x="436.34" y="320.45" width="2.11" height="9.55" fill="#4472C4"/>
<rect x="439.29" y="322.36" width="2.11" height="7.64" fill="#ED7D31"/>
<rect x="442.24" y="325.82" width="2.11" height="4.18" fill="#A5A5A5"/>
<rect x="445.19" y="326.18" width="2.11" height="3.82" fill="#FFC000"/>
<rect x="453.28" y="326.42" width="2.11" height="3.58" fill="#4472C4"/>
<rect x="456.23" y="327.97" width="2.11" height="2.03" fill="#ED7D31"/>
<rect x="459.18" y="328.45" width="2.11" height="1.55" fill="#A5A5A5"/>
<rect x="462.13" y="328.45" width="2.11" height="1.55" fill="#FFC000"/>
<rect x="470.22" y="326.66" width="2.11" height="3.34" fill="#4472C4"/>
<rect x="473.17" y="326.42" width="2.11" height="3.58" fill="#ED7D31"/>
<rect x="476.12" y="326.9" width="2.11" height="3.1" fill="#A5A5A5"/>
<rect x="479.07" y="327.85" width="2.11" height="2.15" fill="#FFC000"/>
<rect x="487.17" y="252.39" width="2.11" height="77.61" fill="#4472C4"/>
<rect x="490.12" y="221.35" width="2.11" height="108.65" fill="#ED7D31"/>
<rect x="493.07" y="269.7" width="2.11" height="60.3" fill="#A5A5A5"/>
<rect x="496.02" y="267.31" width="2.11" height="62.68" fill="#FFC000"/>
<rect x="504.11" y="323.31" width="2.11" height="6.69" fill="#4472C4"/>
<rect x="507.06" y="327.25" width="2.11" height="2.75" fill="#ED7D31"/>
<rect x="510.01" y="325.22" width="2.11" height="4.78" fill="#A5A5A5"/>
<rect x="512.96" y="326.18" width="2.11" height="3.82" fill="#FFC000"/>
<rect x="521.05" y="302.78" width="2.11" height="27.22" fill="#4472C4"/>
<rect x="524" y="288.33" width="2.11" height="41.67" fill="#ED7D31"/>
<rect x="526.95" y="285.82" width="2.11" height="44.18" fill="#A5A5A5"/>
<rect x="529.9" y="295.97" width="2.11" height="34.03" fill="#FFC000"/>
<path d="M335.75 318.3V314.24M334.15 314.24H337.35M338.7 325.1V324.03M337.1 324.03H340.3M341.65 328.33V327.85M340.05 327.85H343.25M344.6 328.81V328.57M343 328.57H346.2M352.69 326.9V326.42M351.09 326.42H354.29M355.64 327.61V327.37M354.04 327.37H357.24M358.59 328.81V328.69M356.99 328.69H360.19M361.54 328.57V328.45M359.94 328.45H363.14M369.63 323.07V316.63M368.03 316.63H371.23M372.58 324.27V323.43M370.98 323.43H374.18M375.53 328.81V328.57M373.93 328.57H377.13M378.48 327.49V325.46M376.88 325.46H380.08M386.57 325.1V323.07M384.97 323.07H388.17M389.52 326.9V326.54M387.92 326.54H391.12M392.47 328.21V327.97M390.87 327.97H394.07M395.42 327.85V327.25M393.82 327.25H397.02M403.51 320.69V317.7M401.91 317.7H405.11M406.46 323.07V319.85M404.86 319.85H408.06M409.41 324.27V323.07M407.81 323.07H411.01M412.36 325.46V324.39M410.76 324.39H413.96M420.45 320.45V317.1M418.85 317.1H422.05M423.4 320.69V320.45M421.8 320.45H425M426.35 321.52V320.93M424.75 320.93H427.95M429.3 322.96V321.52M427.7 321.52H430.9M437.4 320.45V315.55M435.8 315.55H439M440.35 322.36V322.12M438.75 322.12H441.95M443.3 325.82V325.34M441.7 325.34H444.9M446.25 326.18V324.75M444.65 324.75H447.85M454.34 326.42V325.58M452.74 325.58H455.94M457.29 327.97V327.73M455.69 327.73H458.89M460.24 328.45V328.33M458.64 328.33H461.84M463.19 328.45V328.33M461.59 328.33H464.79M471.28 326.66V325.58M469.68 325.58H472.88M474.23 326.42V325.94M472.63 325.94H475.83M477.18 326.9V326.18M475.58 326.18H478.78M480.13 327.85V327.25M478.53 327.25H481.73M488.22 252.39V225.76M486.62 225.76H489.82M491.17 221.35V211.44M489.57 211.44H492.77M494.12 269.7V261.35M492.52 261.35H495.72M497.07 267.31V246.42M495.47 246.42H498.67M505.16 323.31V321.28M503.56 321.28H506.76M508.11 327.25V325.82M506.51 325.82H509.71M511.06 325.22V324.27M509.46 324.27H512.66M514.01 326.18V325.22M512.41 325.22H515.61M522.1 302.78V286.9M520.5 286.9H523.7M525.05 288.33V277.11M523.45 277.11H526.65M528 285.82V281.64M526.4 281.64H529.6M530.95 295.97V280.57M529.35 280.57H532.55" stroke="#707070" stroke-width="1" fill="none"/>
<path d="M331.7 330H535" stroke="#2a2a35" stroke-width="1"/>
<path d="M348.64 330V332.6M365.58 330V332.6M382.52 330V332.6M399.47 330V332.6M416.41 330V332.6M433.35 330V332.6M450.29 330V332.6M467.23 330V332.6M484.17 330V332.6M501.12 330V332.6M518.06 330V332.6M535 330V332.6" stroke="#404040" stroke-width="1"/>
<path d="M331.7 210.1V332.6" stroke="#555" stroke-width="1.3"/>
<path d="M331.7 330H334.5M331.7 318.06H334.5M331.7 306.12H334.5M331.7 294.18H334.5M331.7 282.24H334.5M331.7 270.3H334.5M331.7 258.36H334.5M331.7 246.42H334.5M331.7 234.48H334.5M331.7 222.54H334.5M331.7 210.6H334.5" stroke="#404040" stroke-width="1"/>
<text x="324.1" y="333" text-anchor="end" font-family='"Liberation Sans", sans-serif' font-weight='bold' font-size="9" fill="#1a1a1a">0</text>
<text x="324.1" y="321.06" text-anchor="end" font-family='"Liberation Sans", sans-serif' font-weight='bold' font-size="9" fill="#1a1a1a">10</text>
<text x="324.1" y="309.12" text-anchor="end" font-family='"Liberation Sans", sans-serif' font-weight='bold' font-size="9" fill="#1a1a1a">20</text>
<text x="324.1" y="297.18" text-anchor="end" font-family='"Liberation Sans", sans-serif' font-weight='bold' font-size="9" fill="#1a1a1a">30</text>
<text x="324.1" y="285.24" text-anchor="end" font-family='"Liberation Sans", sans-serif' font-weight='bold' font-size="9" fill="#1a1a1a">40</text>
<text x="324.1" y="273.3" text-anchor="end" font-family='"Liberation Sans", sans-serif' font-weight='bold' font-size="9" fill="#1a1a1a">50</text>
<text x="324.1" y="261.36" text-anchor="end" font-family='"Liberation Sans", sans-serif' font-weight='bold' font-size="9" fill="#1a1a1a">60</text>
<text x="324.1" y="249.42" text-anchor="end" font-family='"Liberation Sans", sans-serif' font-weight='bold' font-size="9" fill="#1a1a1a">70</text>
<text x="324.1" y="237.48" text-anchor="end" font-family='"Liberation Sans", sans-serif' font-weight='bold' font-size="9" fill="#1a1a1a">80</text>
<text x="324.1" y="225.54" text-anchor="end" font-family='"Liberation Sans", sans-serif' font-weight='bold' font-size="9" fill="#1a1a1a">90</text>
<text x="324.1" y="213.6" text-anchor="end" font-family='"Liberation Sans", sans-serif' font-weight='bold' font-size="9" fill="#1a1a1a">100</text>
<text transform="translate(342.97 340.5) rotate(-45)" text-anchor="end" font-family='"Liberation Sans", sans-serif' font-weight='bold' font-size="9.3" fill="#1a1a1a" style="stroke-width:0.3px">Blood</text>
<text transform="translate(359.91 340.5) rotate(-45)" text-anchor="end" font-family='"Liberation Sans", sans-serif' font-weight='bold' font-size="9.3" fill="#1a1a1a" style="stroke-width:0.3px">Muscle</text>
<text transform="translate(376.85 340.5) rotate(-45)" text-anchor="end" font-family='"Liberation Sans", sans-serif' font-weight='bold' font-size="9.3" fill="#1a1a1a" style="stroke-width:0.3px">Fat</text>
<text transform="translate(393.8 340.5) rotate(-45)" text-anchor="end" font-family='"Liberation Sans", sans-serif' font-weight='bold' font-size="9.3" fill="#1a1a1a" style="stroke-width:0.3px">Heart</text>
<text transform="translate(410.74 340.5) rotate(-45)" text-anchor="end" font-family='"Liberation Sans", sans-serif' font-weight='bold' font-size="9.3" fill="#1a1a1a" style="stroke-width:0.3px">Lung</text>
<text transform="translate(427.68 340.5) rotate(-45)" text-anchor="end" font-family='"Liberation Sans", sans-serif' font-weight='bold' font-size="9.3" fill="#1a1a1a" style="stroke-width:0.3px">Liver</text>
<text transform="translate(444.62 340.5) rotate(-45)" text-anchor="end" font-family='"Liberation Sans", sans-serif' font-weight='bold' font-size="9.3" fill="#1a1a1a" style="stroke-width:0.3px">Spleen</text>
<text transform="translate(461.56 340.5) rotate(-45)" text-anchor="end" font-family='"Liberation Sans", sans-serif' font-weight='bold' font-size="9.3" fill="#1a1a1a" style="stroke-width:0.3px">Stomach</text>
<text transform="translate(478.5 340.5) rotate(-45)" text-anchor="end" font-family='"Liberation Sans", sans-serif' font-weight='bold' font-size="9.3" fill="#1a1a1a" style="stroke-width:0.3px">Intestine</text>
<text transform="translate(495.45 340.5) rotate(-45)" text-anchor="end" font-family='"Liberation Sans", sans-serif' font-weight='bold' font-size="9.3" fill="#1a1a1a" style="stroke-width:0.3px">Kidney</text>
<text transform="translate(512.39 340.5) rotate(-45)" text-anchor="end" font-family='"Liberation Sans", sans-serif' font-weight='bold' font-size="9.3" fill="#1a1a1a" style="stroke-width:0.3px">Bone</text>
<text transform="translate(529.33 340.5) rotate(-45)" text-anchor="end" font-family='"Liberation Sans", sans-serif' font-weight='bold' font-size="9.3" fill="#1a1a1a" style="stroke-width:0.3px">Tumor</text>
<text x="334.2" y="219.2" font-family='"Liberation Sans", sans-serif' font-weight="bold" font-size="6.5" fill="#111" style="stroke:#111;stroke-width:0.1px" textLength="7.2" lengthAdjust="spacingAndGlyphs">64</text>
<text x="341.4" y="223.2" font-family='"Liberation Sans", sans-serif' font-weight='bold' font-size="10.5" fill="#111" textLength="81.6" lengthAdjust="spacingAndGlyphs">Cu-cunotadipep</text>
<rect x="512.9" y="229.55" width="3.9" height="3.9" fill="#4472C4"/>
<text x="519.1" y="234.3" font-family='"Liberation Sans", sans-serif' font-weight='bold' font-size="8.2" fill="#1a1a1a">2 h</text>
<rect x="512.9" y="241.75" width="3.9" height="3.9" fill="#ED7D31"/>
<text x="519.1" y="246.5" font-family='"Liberation Sans", sans-serif' font-weight='bold' font-size="8.2" fill="#1a1a1a">6 h</text>
<rect x="512.9" y="253.95" width="3.9" height="3.9" fill="#A5A5A5"/>
<text x="519.1" y="258.7" font-family='"Liberation Sans", sans-serif' font-weight='bold' font-size="8.2" fill="#1a1a1a">24 h</text>
<rect x="512.9" y="266.15" width="3.9" height="3.9" fill="#FFC000"/>
<text x="519.1" y="270.9" font-family='"Liberation Sans", sans-serif' font-weight='bold' font-size="8.2" fill="#1a1a1a">48 h</text>
<text transform="translate(300.7 265) rotate(-90)" text-anchor="middle" font-family='"Liberation Sans", sans-serif' font-weight='bold' font-size="10" fill="#111">Uptake (%ID/g)</text>
<text x="287.6" y="214.3" font-family='"Liberation Sans", sans-serif' font-size="13.5" fill="#111" style="stroke:#111;stroke-width:0.8px">D</text>
</svg>
</body></html>
